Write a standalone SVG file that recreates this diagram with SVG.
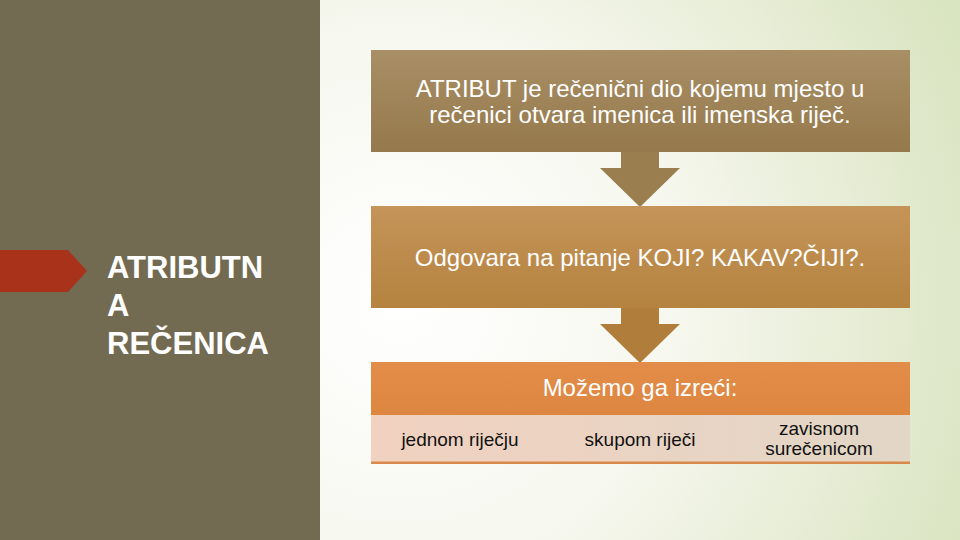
<svg xmlns="http://www.w3.org/2000/svg" width="960" height="540" viewBox="0 0 960 540">
<defs>
<radialGradient id="bg" cx="400" cy="300" r="620" gradientUnits="userSpaceOnUse">
<stop offset="0" stop-color="#ffffff"/>
<stop offset="0.45" stop-color="#f6f7ee"/>
<stop offset="1" stop-color="#d9e4c0"/>
</radialGradient>
<linearGradient id="g1" x1="0" y1="0" x2="0" y2="1">
<stop offset="0" stop-color="#a98f66"/>
<stop offset="1" stop-color="#95794c"/>
</linearGradient>
<linearGradient id="g2" x1="0" y1="0" x2="0" y2="1">
<stop offset="0" stop-color="#c49459"/>
<stop offset="1" stop-color="#b5833f"/>
</linearGradient>
<linearGradient id="g3" x1="0" y1="0" x2="0" y2="1">
<stop offset="0" stop-color="#e38d4a"/>
<stop offset="1" stop-color="#dc8640"/>
</linearGradient>
<linearGradient id="gs" x1="0" y1="0" x2="1" y2="0">
<stop offset="0" stop-color="#f1d1c0"/>
<stop offset="1" stop-color="#e2d6c6"/>
</linearGradient>
<style>
.t{font-family:"Liberation Sans",Arial,sans-serif;fill:#ffffff;font-size:24px;text-anchor:middle}
.s{font-family:"Liberation Sans",Arial,sans-serif;fill:#111111;font-size:19px;text-anchor:middle}
.h{font-family:"Liberation Sans",Arial,sans-serif;fill:#ffffff;font-size:31px;font-weight:bold}
</style>
</defs>
<rect width="960" height="540" fill="url(#bg)"/>
<rect x="0" y="0" width="320" height="540" fill="#736a52"/>
<g id="title">
<path d="M0,250 L68,250 L87,271 L68,292 L0,292 Z" fill="#a8321a"/>
<text class="h" x="107" y="278">ATRIBUTN</text>
<text class="h" x="107" y="316">A</text>
<text class="h" x="107" y="354">REČENICA</text>
</g>
<g id="connectors">
<path d="M621,152 L659,152 L659,168 L680,168 L640,207 L600,168 L621,168 Z" fill="#9a7e50"/>
<path d="M621,308 L659,308 L659,324 L680,324 L640,363 L600,324 L621,324 Z" fill="#b07e3a"/>
</g>
<g id="box1">
<rect x="371" y="50" width="539" height="102" fill="url(#g1)"/>
<text class="t" x="640" y="97">ATRIBUT je rečenični dio kojemu mjesto u</text>
<text class="t" x="640" y="123">rečenici otvara imenica ili imenska riječ.</text>
</g>
<g id="box2">
<rect x="371" y="206" width="539" height="102" fill="url(#g2)"/>
<text class="t" x="640" y="266">Odgovara na pitanje KOJI? KAKAV?ČIJI?.</text>
</g>
<g id="box3">
<rect x="371" y="362" width="539" height="53" fill="url(#g3)"/>
<text class="t" x="640" y="396">Možemo ga izreći:</text>
<rect x="371" y="415" width="539" height="47" fill="url(#gs)"/>
<rect x="371" y="461.5" width="539" height="2.5" fill="#d9894a"/>
<text class="s" x="460" y="446">jednom riječju</text>
<text class="s" x="640" y="446">skupom riječi</text>
<text class="s" x="819" y="435">zavisnom</text>
<text class="s" x="819" y="455">surečenicom</text>
</g>
</svg>
